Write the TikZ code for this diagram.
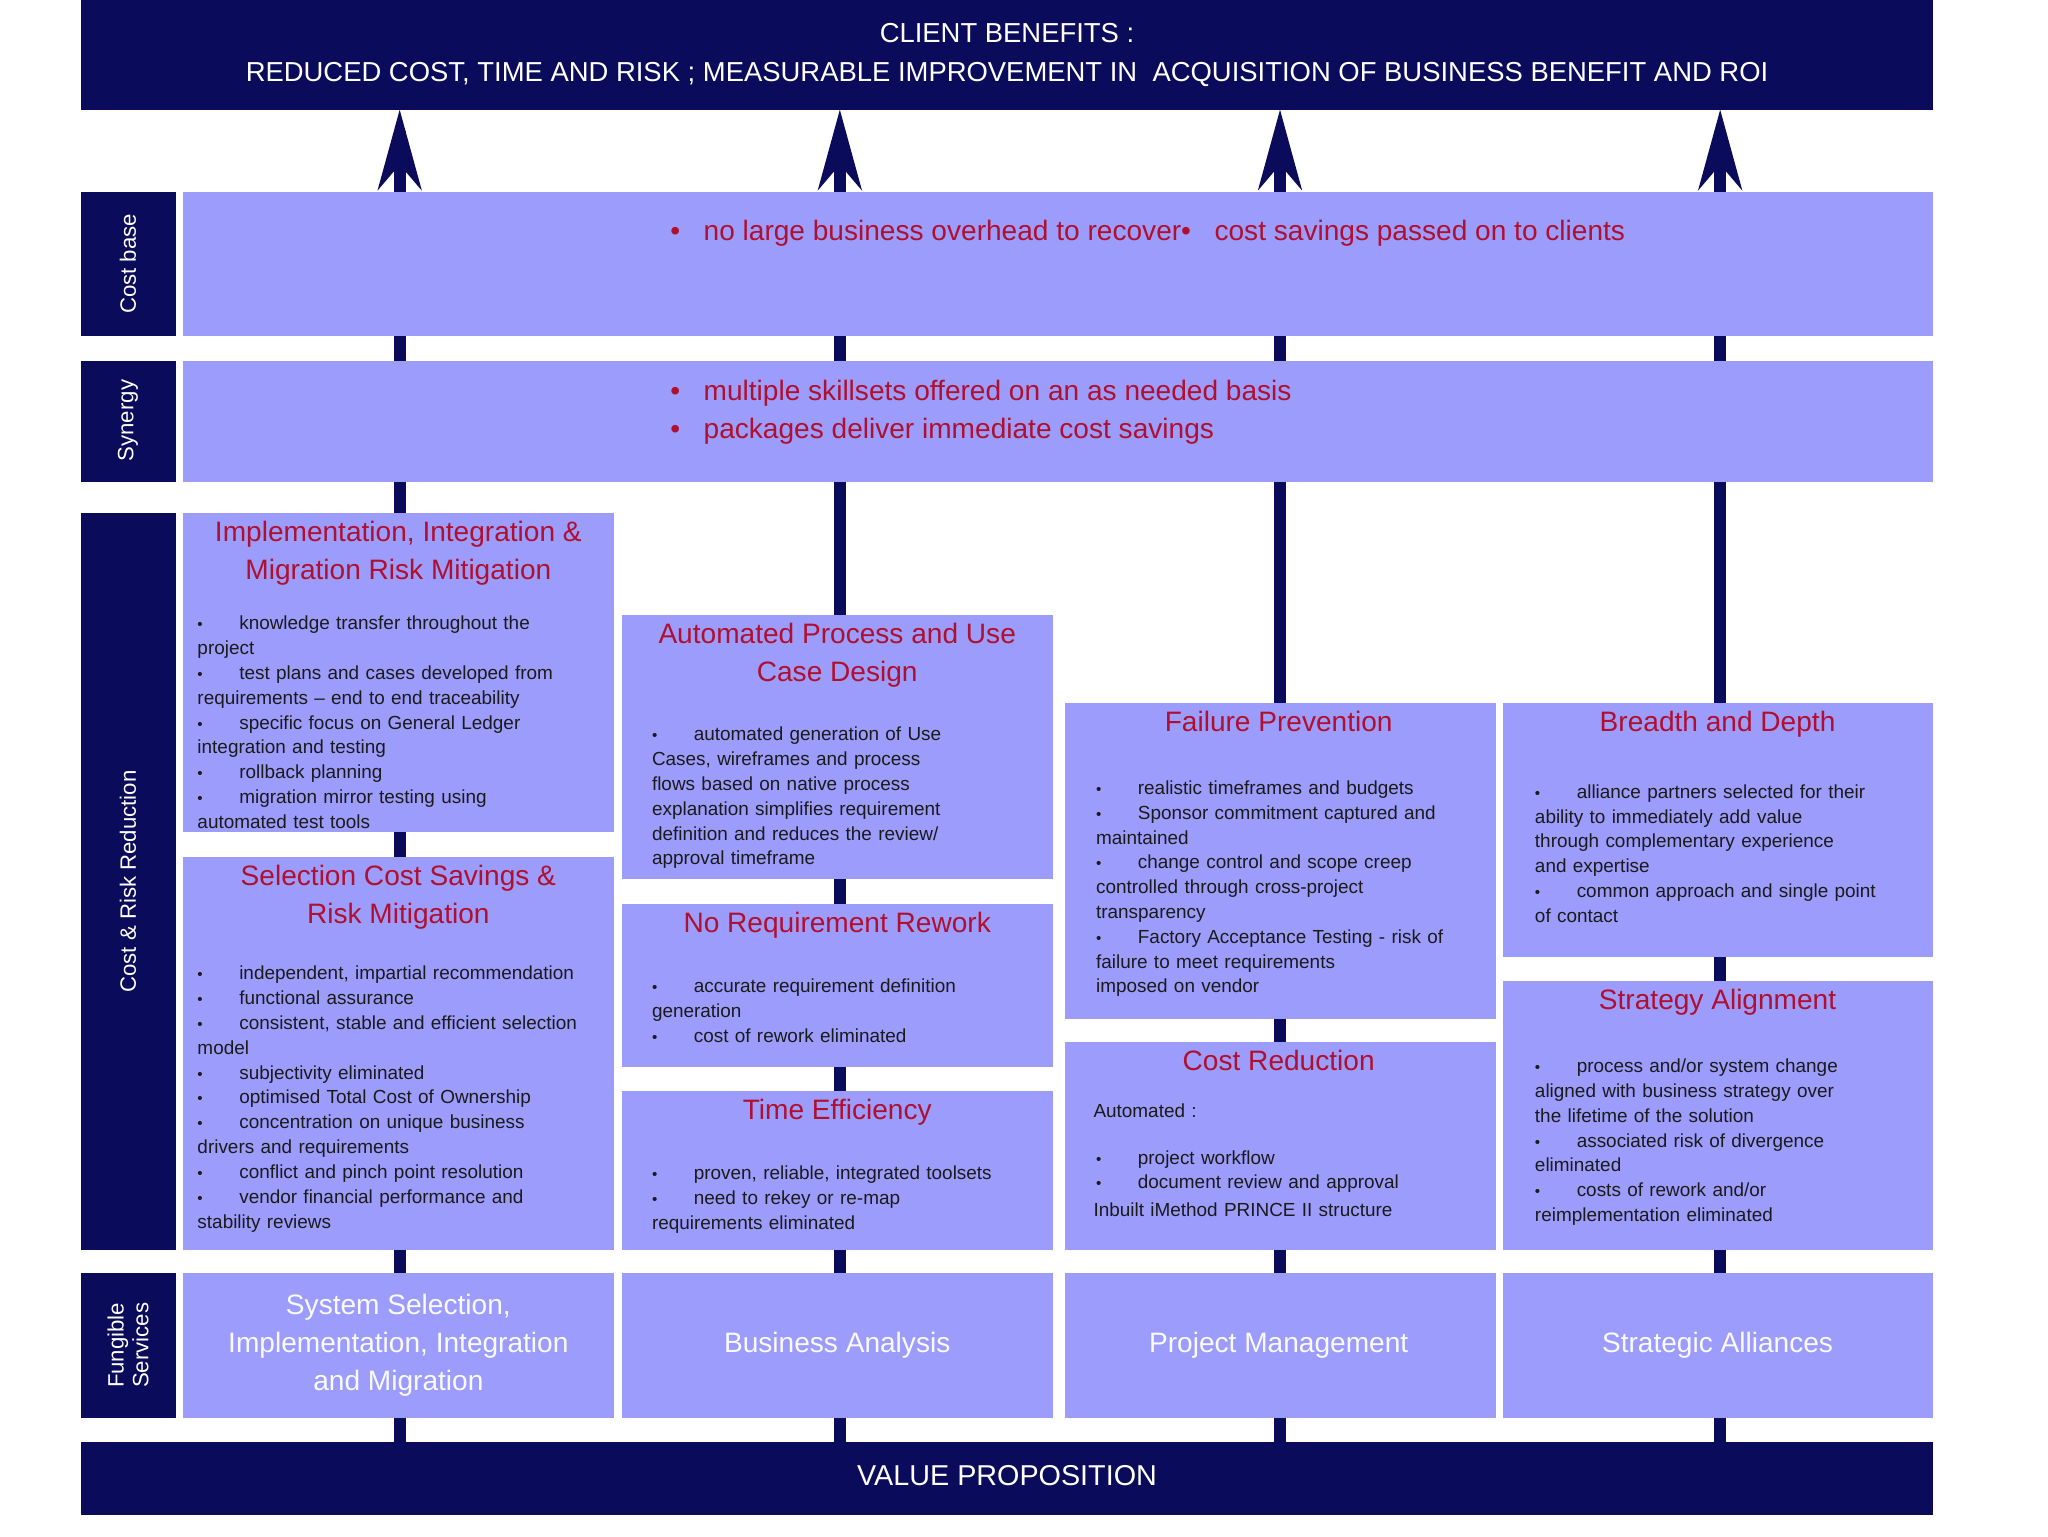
\documentclass[tikz,border=0pt]{standalone}
\usepackage{fontspec}
\setmainfont{Liberation Sans}
\definecolor{navy}{HTML}{0B0B5C}
\definecolor{lav}{HTML}{9C9CFC}
\definecolor{tred}{HTML}{B01030}
\definecolor{txt}{HTML}{1A1A1A}
\newcommand{\bi}[1]{\par\hangindent=32pt\hangafter=1\noindent\makebox[32pt][l]{\scalebox{0.8}{\textbullet}}#1}
\tikzset{
 box/.style={fill=lav,draw=none},
 side/.style={fill=navy,draw=none},
 sidelab/.style={rotate=90,text=white,font=\fontsize{17}{20}\selectfont,align=center},
 ttl/.style={anchor=north,text=tred,align=center,font=\fontsize{21.5}{29}\selectfont,inner sep=0},
 lst/.style={anchor=north west,text=txt,inner sep=0,font=\fontsize{14.5}{19}\selectfont},
 big/.style={text=tred,anchor=north west,inner sep=0,font=\fontsize{21.5}{29}\selectfont},
 fung/.style={text=white!95!lav,align=center,font=\fontsize{21.5}{29}\selectfont},
 conn/.style={navy,line width=9pt},
}
\begin{document}
\begin{tikzpicture}[x=1pt,y=-1pt]
\useasboundingbox (0,0) rectangle (1568,1176);
% connectors
\foreach \x/\n in {306/a,643/b,980/c,1317/d}{
 \coordinate (t\n) at (\x,100); \coordinate (b\n) at (\x,1104);
 \draw[conn] (t\n) -- (b\n);
 \fill[navy] (\x,84) -- (\x+17,146) -- (\x,126) -- (\x-17,146) -- cycle;
}
% banner
\fill[navy] (62,0) rectangle (1480,84);
\node[text=white,font=\fontsize{21}{30}\selectfont,align=center] (top) at (771,42) {CLIENT BENEFITS :\\REDUCED COST, TIME AND RISK ; MEASURABLE IMPROVEMENT IN\ \ ACQUISITION OF BUSINESS BENEFIT AND ROI};
\fill[navy] (62,1104) rectangle (1480,1160);
\node[text=white,font=\fontsize{22}{26}\selectfont] (vp) at (771,1130) {VALUE PROPOSITION};
% side labels
\fill[side] (62,147) rectangle (135,257); \node[sidelab] at (98,202) {Cost base};
\fill[side] (62,276) rectangle (135,369); \node[sidelab] at (98,322) {Synergy};
\fill[side] (62,393) rectangle (135,957); \node[sidelab] at (98,675) {Cost \& Risk Reduction};
\fill[side] (62,975) rectangle (135,1086); \node[sidelab,font=\fontsize{17}{19}\selectfont] at (98,1030) {Fungible\\Services};
% wide rows
\fill[box] (140,147) rectangle (1480,257);
\node[big] at (513,168) {\textbullet\hspace{18pt}no large business overhead to recover\\[0pt]\textbullet\hspace{18pt}cost savings passed on to clients};
\fill[box] (140,276) rectangle (1480,369);
\node[big,align=left] at (513,291) {\textbullet\hspace{18pt}multiple skillsets offered on an as needed basis\\\textbullet\hspace{18pt}packages deliver immediate cost savings};
% column 1
\fill[box] (140,393) rectangle (470,637);
\node[ttl] at (305,399) {Implementation, Integration \&\\Migration Risk Mitigation};
\node[lst,text width=320pt] at (151,463) {\bi{knowledge transfer throughout the\\project}\bi{test plans and cases developed from\\requirements – end to end traceability}\bi{specific focus on General Ledger\\integration and testing}\bi{rollback planning}\bi{migration mirror testing using\\automated test tools}};
\fill[box] (140,656) rectangle (470,957);
\node[ttl] at (305,662) {Selection Cost Savings \&\\Risk Mitigation};
\node[lst,text width=320pt] at (151,731) {\bi{independent, impartial recommendation}\bi{functional assurance}\bi{consistent, stable and efficient selection\\model}\bi{subjectivity eliminated}\bi{optimised Total Cost of Ownership}\bi{concentration on unique business\\drivers and requirements}\bi{conflict and pinch point resolution}\bi{vendor financial performance and\\stability reviews}};
% column 2
\fill[box] (476,471) rectangle (806,673);
\node[ttl] at (641,477) {Automated Process and Use\\Case Design};
\node[lst,text width=320pt] at (499,548) {\bi{automated generation of Use\\Cases, wireframes and process\\flows based on native process\\explanation simplifies requirement\\definition and reduces the review/\\approval timeframe}};
\fill[box] (476,692) rectangle (806,817);
\node[ttl] at (641,698) {No Requirement Rework};
\node[lst,text width=320pt] at (499,741) {\bi{accurate requirement definition\\generation}\bi{cost of rework eliminated}};
\fill[box] (476,835) rectangle (806,957);
\node[ttl] at (641,841) {Time Efficiency};
\node[lst,text width=320pt] at (499,884) {\bi{proven, reliable, integrated toolsets}\bi{need to rekey or re-map\\requirements eliminated}};
% column 3
\fill[box] (815,538) rectangle (1145,780);
\node[ttl] at (979,544) {Failure Prevention};
\node[lst,text width=320pt] at (839,589) {\bi{realistic timeframes and budgets}\bi{Sponsor commitment captured and\\maintained}\bi{change control and scope creep\\controlled through cross-project\\transparency}\bi{Factory Acceptance Testing - risk of\\failure to meet requirements\\imposed on vendor}};
\fill[box] (815,798) rectangle (1145,957);
\node[ttl] at (979,804) {Cost Reduction};
\node[lst,text width=320pt] at (837,845) {Automated :};
\node[lst,text width=320pt] at (839,872) {\bi{project workflow}\bi{document review and approval}};
\node[lst,text width=320pt] at (837,921) {Inbuilt iMethod PRINCE II structure};
% column 4
\fill[box] (1151,538) rectangle (1480,733);
\node[ttl] at (1315,544) {Breadth and Depth};
\node[lst,text width=320pt] at (1175,592) {\bi{alliance partners selected for their\\ability to immediately add value\\through complementary experience\\and expertise}\bi{common approach and single point\\of contact}};
\fill[box] (1151,751) rectangle (1480,957);
\node[ttl] at (1315,757) {Strategy Alignment};
\node[lst,text width=320pt] at (1175,802) {\bi{process and/or system change\\aligned with business strategy over\\the lifetime of the solution}\bi{associated risk of divergence\\eliminated}\bi{costs of rework and/or\\reimplementation eliminated}};
% fungible
\fill[box] (140,975) rectangle (470,1086); \node[fung] at (305,1030) {System Selection,\\Implementation, Integration\\and Migration};
\fill[box] (476,975) rectangle (806,1086); \node[fung] at (641,1030) {Business Analysis};
\fill[box] (815,975) rectangle (1145,1086); \node[fung] at (979,1030) {Project Management};
\fill[box] (1151,975) rectangle (1480,1086); \node[fung] at (1315,1030) {Strategic Alliances};
\end{tikzpicture}
\end{document}
